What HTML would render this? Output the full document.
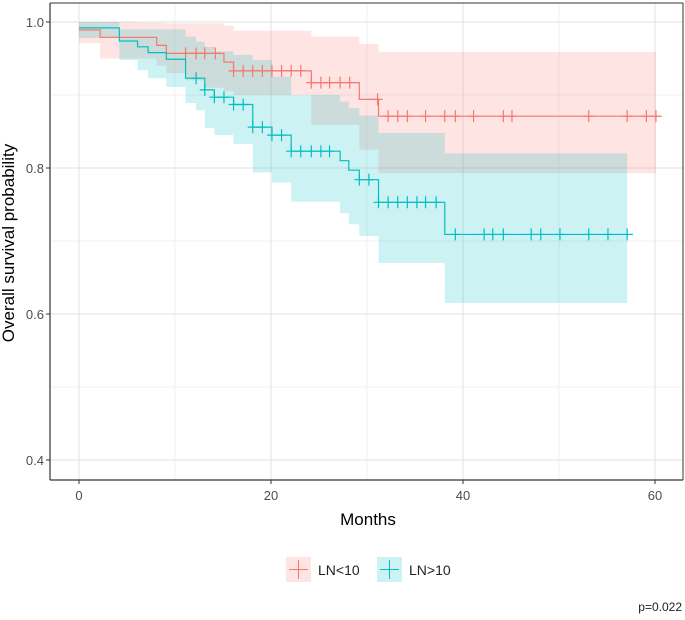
<!DOCTYPE html>
<html><head><meta charset="utf-8"><style>
html,body{margin:0;padding:0;background:#fff;}
svg text{font-family:"Liberation Sans",Arial,sans-serif;}
</style></head><body>
<svg id="chart" width="685" height="615" viewBox="0 0 685 615" xmlns="http://www.w3.org/2000/svg">
<g id="grid"></g>
<g id="bands"></g>
<g id="curves"></g>
<g id="axes"></g>
<text x="14" y="243" transform="rotate(-90 14 243)" text-anchor="middle" font-size="17" fill="#000">Overall survival probability</text>
<text x="368" y="525" text-anchor="middle" font-size="17" fill="#000">Months</text>
<g>
 <g>
  <rect x="286" y="557" width="25" height="25" fill="#F8766D" fill-opacity="0.2"/>
  <line x1="289" y1="569.5" x2="308" y2="569.5" stroke="#F8766D" stroke-width="1"/>
  <line x1="298.5" y1="560" x2="298.5" y2="579" stroke="#F8766D" stroke-width="1"/>
  <text x="318" y="575" font-size="14" fill="#222">LN&lt;10</text>
 </g>
 <g>
  <rect x="377" y="557" width="25" height="25" fill="#00BFC4" fill-opacity="0.2"/>
  <line x1="380" y1="569.5" x2="399" y2="569.5" stroke="#00BFC4" stroke-width="1"/>
  <line x1="389.5" y1="560" x2="389.5" y2="579" stroke="#00BFC4" stroke-width="1"/>
  <text x="409" y="575" font-size="14" fill="#222">LN&gt;10</text>
 </g>
</g>
<text x="682" y="611" text-anchor="end" font-size="12" fill="#222">p=0.022</text>
</svg>
<script>
const xTicks=[0,20,40,60];
const yTicks=[0.4,0.6,0.8,1.0];
const xMinor=[10,30,50];
const yMinor=[0.5,0.7,0.9];
// red group LN<10
const redStepT=[0,2.2,8.1,9.1,15.1,16.1,24.2,29.2,31.2];
const redStepS=[0.989,0.979,0.968,0.957,0.945,0.933,0.917,0.894,0.871];
const redEnd=60.7;
const redCensT=[11.1,12.2,13.1,14.2,16.1,17.1,18.1,19.1,20.1,21.1,22.1,23.1,24.2,25.2,26.1,27.2,28.2,31.1,32.2,33.2,34.2,36.1,38.1,39.2,41.1,44.2,45.1,53.1,57.1,59.1,60.1];
const redBandT=[0,2.2,6,8.1,9.1,11.1,13.1,15.1,16.1,24.2,29.2,31.2];
const redBandHi=[1.0,1.0,0.999,0.999,0.998,0.998,0.998,0.995,0.988,0.98,0.97,0.959];
const redBandLo=[0.971,0.95,0.95,0.94,0.93,0.92,0.91,0.905,0.9,0.859,0.825,0.793];
const redBandEnd=60.1;
// teal group LN>10
const tealStepT=[0,4.2,6.1,7.2,9.1,11.1,13.1,14.1,16.1,18.1,20.1,22.1,27.2,28.1,29.2,31.2,38.1];
const tealStepS=[0.992,0.974,0.966,0.958,0.949,0.923,0.907,0.897,0.887,0.856,0.845,0.823,0.810,0.797,0.784,0.753,0.709];
const tealEnd=57.7;
const tealCensT=[12.2,13.1,14.1,15.1,16.1,17.1,18.1,19.1,20.1,21.1,22.1,23.1,24.2,25.2,26.1,29.2,30.2,31.2,32.2,33.2,34.2,35.2,36.1,37.2,39.2,42.2,43.1,44.2,47.1,48.1,50.1,53.1,55.1,57.1];
const tealBandT=[0,4.2,6.1,7.2,9.1,11.1,12.2,13.1,14.1,16.1,18.1,20.1,22.1,24.2,27.2,28.1,29.2,31.2,38.1];
const tealBandHi=[1.0,0.99,0.99,0.99,0.99,0.98,0.973,0.966,0.96,0.955,0.948,0.925,0.9,0.9,0.891,0.882,0.872,0.848,0.82];
const tealBandLo=[0.978,0.948,0.934,0.923,0.911,0.889,0.879,0.855,0.845,0.833,0.794,0.78,0.754,0.754,0.738,0.723,0.707,0.670,0.615];
const tealBandEnd=57.1;

const NS='http://www.w3.org/2000/svg';
const L=50,R=683,T=3,B=480;
function xs(t){return 79+t*9.6;}
function ys(v){return 22+(1-v)*730;}
function mk(tag,attrs,parent){const e=document.createElementNS(NS,tag);for(const k in attrs)e.setAttribute(k,attrs[k]);parent.appendChild(e);return e;}
const grid=document.getElementById('grid'),bands=document.getElementById('bands'),curves=document.getElementById('curves'),axes=document.getElementById('axes');
mk('rect',{x:L,y:T,width:R-L,height:B-T,fill:'#fff'},grid);
xMinor.forEach(t=>{const l=mk('line',{x1:xs(t),x2:xs(t),y1:T,y2:B,stroke:'#f0f0f0','stroke-width':1},grid);

});
yMinor.forEach(v=>{const l=mk('line',{x1:L,x2:R,y1:ys(v),y2:ys(v),stroke:'#f0f0f0','stroke-width':1},grid);

});
xTicks.forEach(t=>{const l=mk('line',{x1:xs(t),x2:xs(t),y1:T,y2:B,stroke:'#e6e6e6','stroke-width':1.2},grid);


const k=mk('line',{x1:xs(t),x2:xs(t),y1:B,y2:B+4,stroke:'#333','stroke-width':1},axes);


const tx=mk('text',{x:xs(t),y:B+20,'text-anchor':'middle','font-size':13,fill:'#4d4d4d'},axes);tx.textContent=String(t);

});
yTicks.forEach(v=>{const l=mk('line',{x1:L,x2:R,y1:ys(v),y2:ys(v),stroke:'#e6e6e6','stroke-width':1.2},grid);


const k=mk('line',{x1:L-4,x2:L,y1:ys(v),y2:ys(v),stroke:'#333','stroke-width':1},axes);


const tx=mk('text',{x:L-6,y:ys(v)+5,'text-anchor':'end','font-size':13,fill:'#4d4d4d'},axes);tx.textContent=v.toFixed(1);

});
function bandPath(ts,hi,lo,end){let up='',dn='';for(let i=0;i<ts.length;i++){const t1=i+1<ts.length?ts[i+1]:end;
up+=(i?'L':'M')+xs(ts[i])+','+ys(hi[i])+'L'+xs(t1)+','+ys(hi[i]);}
for(let i=ts.length-1;i>=0;i--){const t1=i+1<ts.length?ts[i+1]:end;dn+='L'+xs(t1)+','+ys(lo[i])+'L'+xs(ts[i])+','+ys(lo[i]);}
return up+dn+'Z';}
function stepPath(ts,ss,end){let d='M'+xs(ts[0])+','+ys(ss[0]);for(let i=1;i<ts.length;i++){d+='L'+xs(ts[i])+','+ys(ss[i-1])+'L'+xs(ts[i])+','+ys(ss[i]);}d+='L'+xs(end)+','+ys(ss[ss.length-1]);return d;}
function survAt(ts,ss,t){let s=ss[0];for(let i=0;i<ts.length;i++){if(ts[i]<=t+1e-9)s=ss[i];}return s;}
const rb=mk('path',{d:bandPath(redBandT,redBandHi,redBandLo,redBandEnd),fill:'#F8766D','fill-opacity':0.2},bands);


const tb=mk('path',{d:bandPath(tealBandT,tealBandHi,tealBandLo,tealBandEnd),fill:'#00BFC4','fill-opacity':0.2},bands);


function drawCurve(ts,ss,end,cens,col,name){
const p=mk('path',{d:stepPath(ts,ss,end),fill:'none',stroke:col,'stroke-width':1.2},curves);


cens.forEach(t=>{const y=ys(survAt(ts,ss,t)),x=xs(t);
const c=mk('path',{d:'M'+(x-5)+','+y+'L'+(x+5)+','+y+'M'+x+','+(y-6)+'L'+x+','+(y+6),stroke:col,'stroke-width':1.2,fill:'none'},curves);

});}
drawCurve(redStepT,redStepS,redEnd,redCensT,'#F8766D','ln-lt-10');
drawCurve(tealStepT,tealStepS,tealEnd,tealCensT,'#00BFC4','ln-gt-10');
const ax1=mk('line',{x1:L,x2:L,y1:T,y2:B,stroke:'#333','stroke-width':1.2},axes);


const ax2=mk('line',{x1:L,x2:R,y1:B,y2:B,stroke:'#333','stroke-width':1.2},axes);


const ax3=mk('line',{x1:R,x2:R,y1:T,y2:B,stroke:'#333','stroke-width':1},axes);


const ax4=mk('line',{x1:L,x2:R,y1:T,y2:T,stroke:'#333','stroke-width':1},axes);


</script>
</body></html>
